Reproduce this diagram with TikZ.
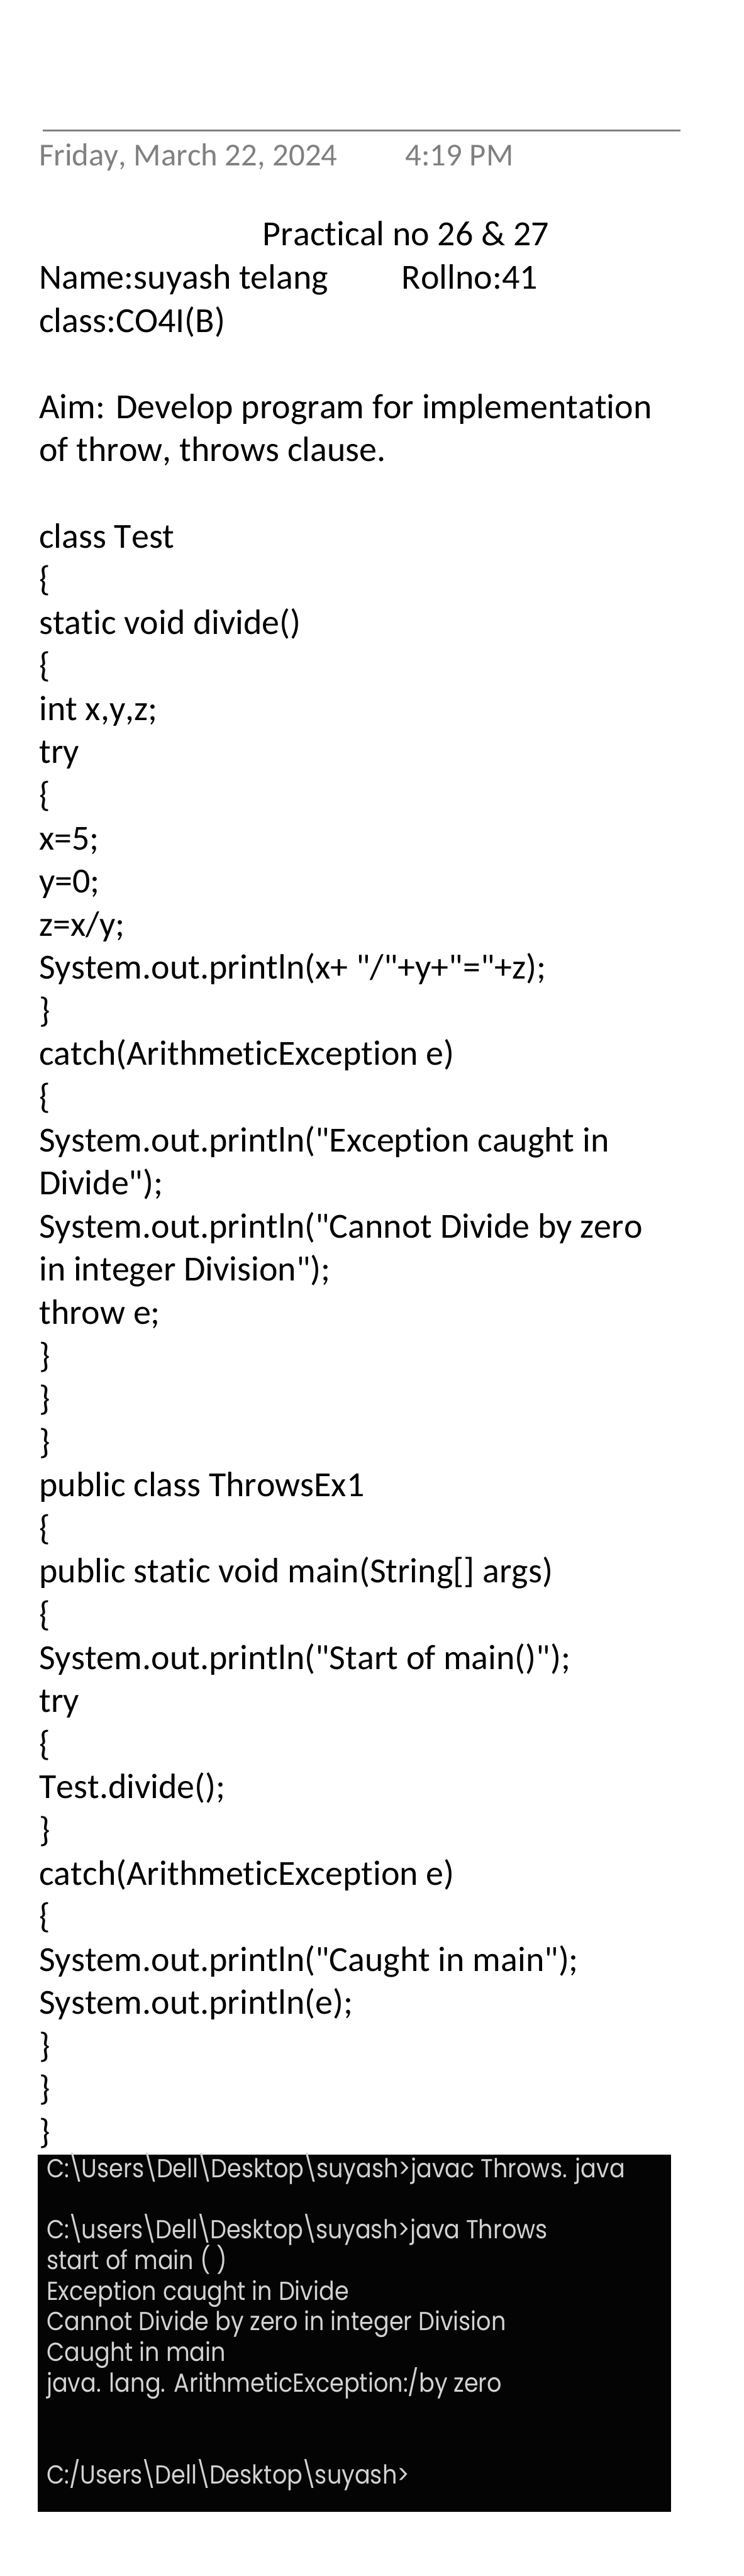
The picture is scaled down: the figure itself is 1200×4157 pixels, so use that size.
\documentclass[tikz,border=0pt]{standalone}
\usepackage{fontspec}
\setmainfont[Ligatures={TeXOff,NoCommon},Kerning=Off]{Carlito}
\newfontfamily\termfont[FakeStretch=0.885]{Poppins}
\definecolor{rulegray}{HTML}{808080}
\definecolor{termtext}{HTML}{D2D2D2}
\definecolor{termback}{HTML}{040404}
\newcommand{\bs}{\kern-2.2pt\textbackslash\kern-2.2pt}

\begin{document}
\begin{tikzpicture}[x=1pt,y=-1pt,
    tline/.style={anchor=base west,inner sep=0pt,font=\fontsize{56.8}{60}\selectfont},
    dline/.style={tline,text=rulegray,font=\fontsize{51.5}{60}\selectfont},
    oline/.style={anchor=base west,inner sep=0pt,text=termtext,font=\termfont\fontsize{42}{46}\selectfont}]
    \useasboundingbox (0,0) rectangle (1200,4157);
    \coordinate (rs) at (69,211);
    \coordinate (re) at (1098,211);
    \draw[rulegray,line width=3pt] (rs) -- (re);
    \node[dline] (date) at (63,267) {Friday, March 22, 2024};
    \node[dline] (time) at (654,267) {4:19 PM};

    \node[tline] (title) at (424,396.8) {Practical no 26 \& 27};
    \node[tline] (name) at (63,466.4) {Name:suyash telang};
    \node[tline] (roll) at (648,466.4) {Rollno:41};
    \node[tline] (cls) at (63,536) {class:CO4I(B)};
    \node[tline] (aim1) at (63,675.2) {Aim: Develop program for implementation};
    \node[tline] (aim2) at (63,744.8) {of throw, throws clause.};

    \node[tline] (l7) at (63,884) {class Test};
    \node[tline] (l8) at (63,953.6) {\{};
    \node[tline] (l9) at (63,1023.2) {static void divide()};
    \node[tline] (l10) at (63,1092.8) {\{};
    \node[tline] (l11) at (63,1162.4) {int x,y,z;};
    \node[tline] (l12) at (63,1232) {try};
    \node[tline] (l13) at (63,1301.6) {\{};
    \node[tline] (l14) at (63,1371.2) {x=5;};
    \node[tline] (l15) at (63,1440.8) {y=0;};
    \node[tline] (l16) at (63,1510.4) {z=x/y;};
    \node[tline] (l17) at (63,1580) {System.out.println(x+ "/"+y+"="+z);};
    \node[tline] (l18) at (63,1649.6) {\}};
    \node[tline] (l19) at (63,1719.2) {catch(ArithmeticException e)};
    \node[tline] (l20) at (63,1788.8) {\{};
    \node[tline] (l21) at (63,1858.4) {System.out.println("Exception caught in};
    \node[tline] (l22) at (63,1928) {Divide");};
    \node[tline] (l23) at (63,1997.6) {System.out.println("Cannot Divide by zero};
    \node[tline] (l24) at (63,2067.2) {in integer Division");};
    \node[tline] (l25) at (63,2136.8) {throw e;};
    \node[tline] (l26) at (63,2206.4) {\}};
    \node[tline] (l27) at (63,2276) {\}};
    \node[tline] (l28) at (63,2345.6) {\}};
    \node[tline] (l29) at (63,2415.2) {public class ThrowsEx1};
    \node[tline] (l30) at (63,2484.8) {\{};
    \node[tline] (l31) at (63,2554.4) {public static void main(String[] args)};
    \node[tline] (l32) at (63,2624) {\{};
    \node[tline] (l33) at (63,2693.6) {System.out.println("Start of main()");};
    \node[tline] (l34) at (63,2763.2) {try};
    \node[tline] (l35) at (63,2832.8) {\{};
    \node[tline] (l36) at (63,2902.4) {Test.divide();};
    \node[tline] (l37) at (63,2972) {\}};
    \node[tline] (l38) at (63,3041.6) {catch(ArithmeticException e)};
    \node[tline] (l39) at (63,3111.2) {\{};
    \node[tline] (l40) at (63,3180.8) {System.out.println("Caught in main");};
    \node[tline] (l41) at (63,3250.4) {System.out.println(e);};
    \node[tline] (l42) at (63,3320) {\}};
    \node[tline] (l43) at (63,3389.6) {\}};
    \node[tline] (l44) at (63,3459.2) {\}};

    \fill[termback] (61,3477) rectangle (1083,4053);
    \node[oline] (o1) at (75,3514) {C:\bs Users\bs Dell\bs Desktop\bs suyash>javac Throws. java};
    \node[oline] (o2) at (75,3612) {C:\bs users\bs Dell\bs Desktop\bs suyash>java Throws};
    \node[oline] (o3) at (75,3662) {start of main ( )};
    \node[oline] (o4) at (75,3712) {Exception caught in Divide};
    \node[oline] (o5) at (75,3761) {Cannot Divide by zero in integer Division};
    \node[oline] (o6) at (75,3810) {Caught in main};
    \node[oline] (o7) at (75,3860) {java. lang. ArithmeticException:/by zero};
    \node[oline] (o8) at (75,4008) {C:/Users\bs Dell\bs Desktop\bs suyash>};
\end{tikzpicture}
\end{document}
